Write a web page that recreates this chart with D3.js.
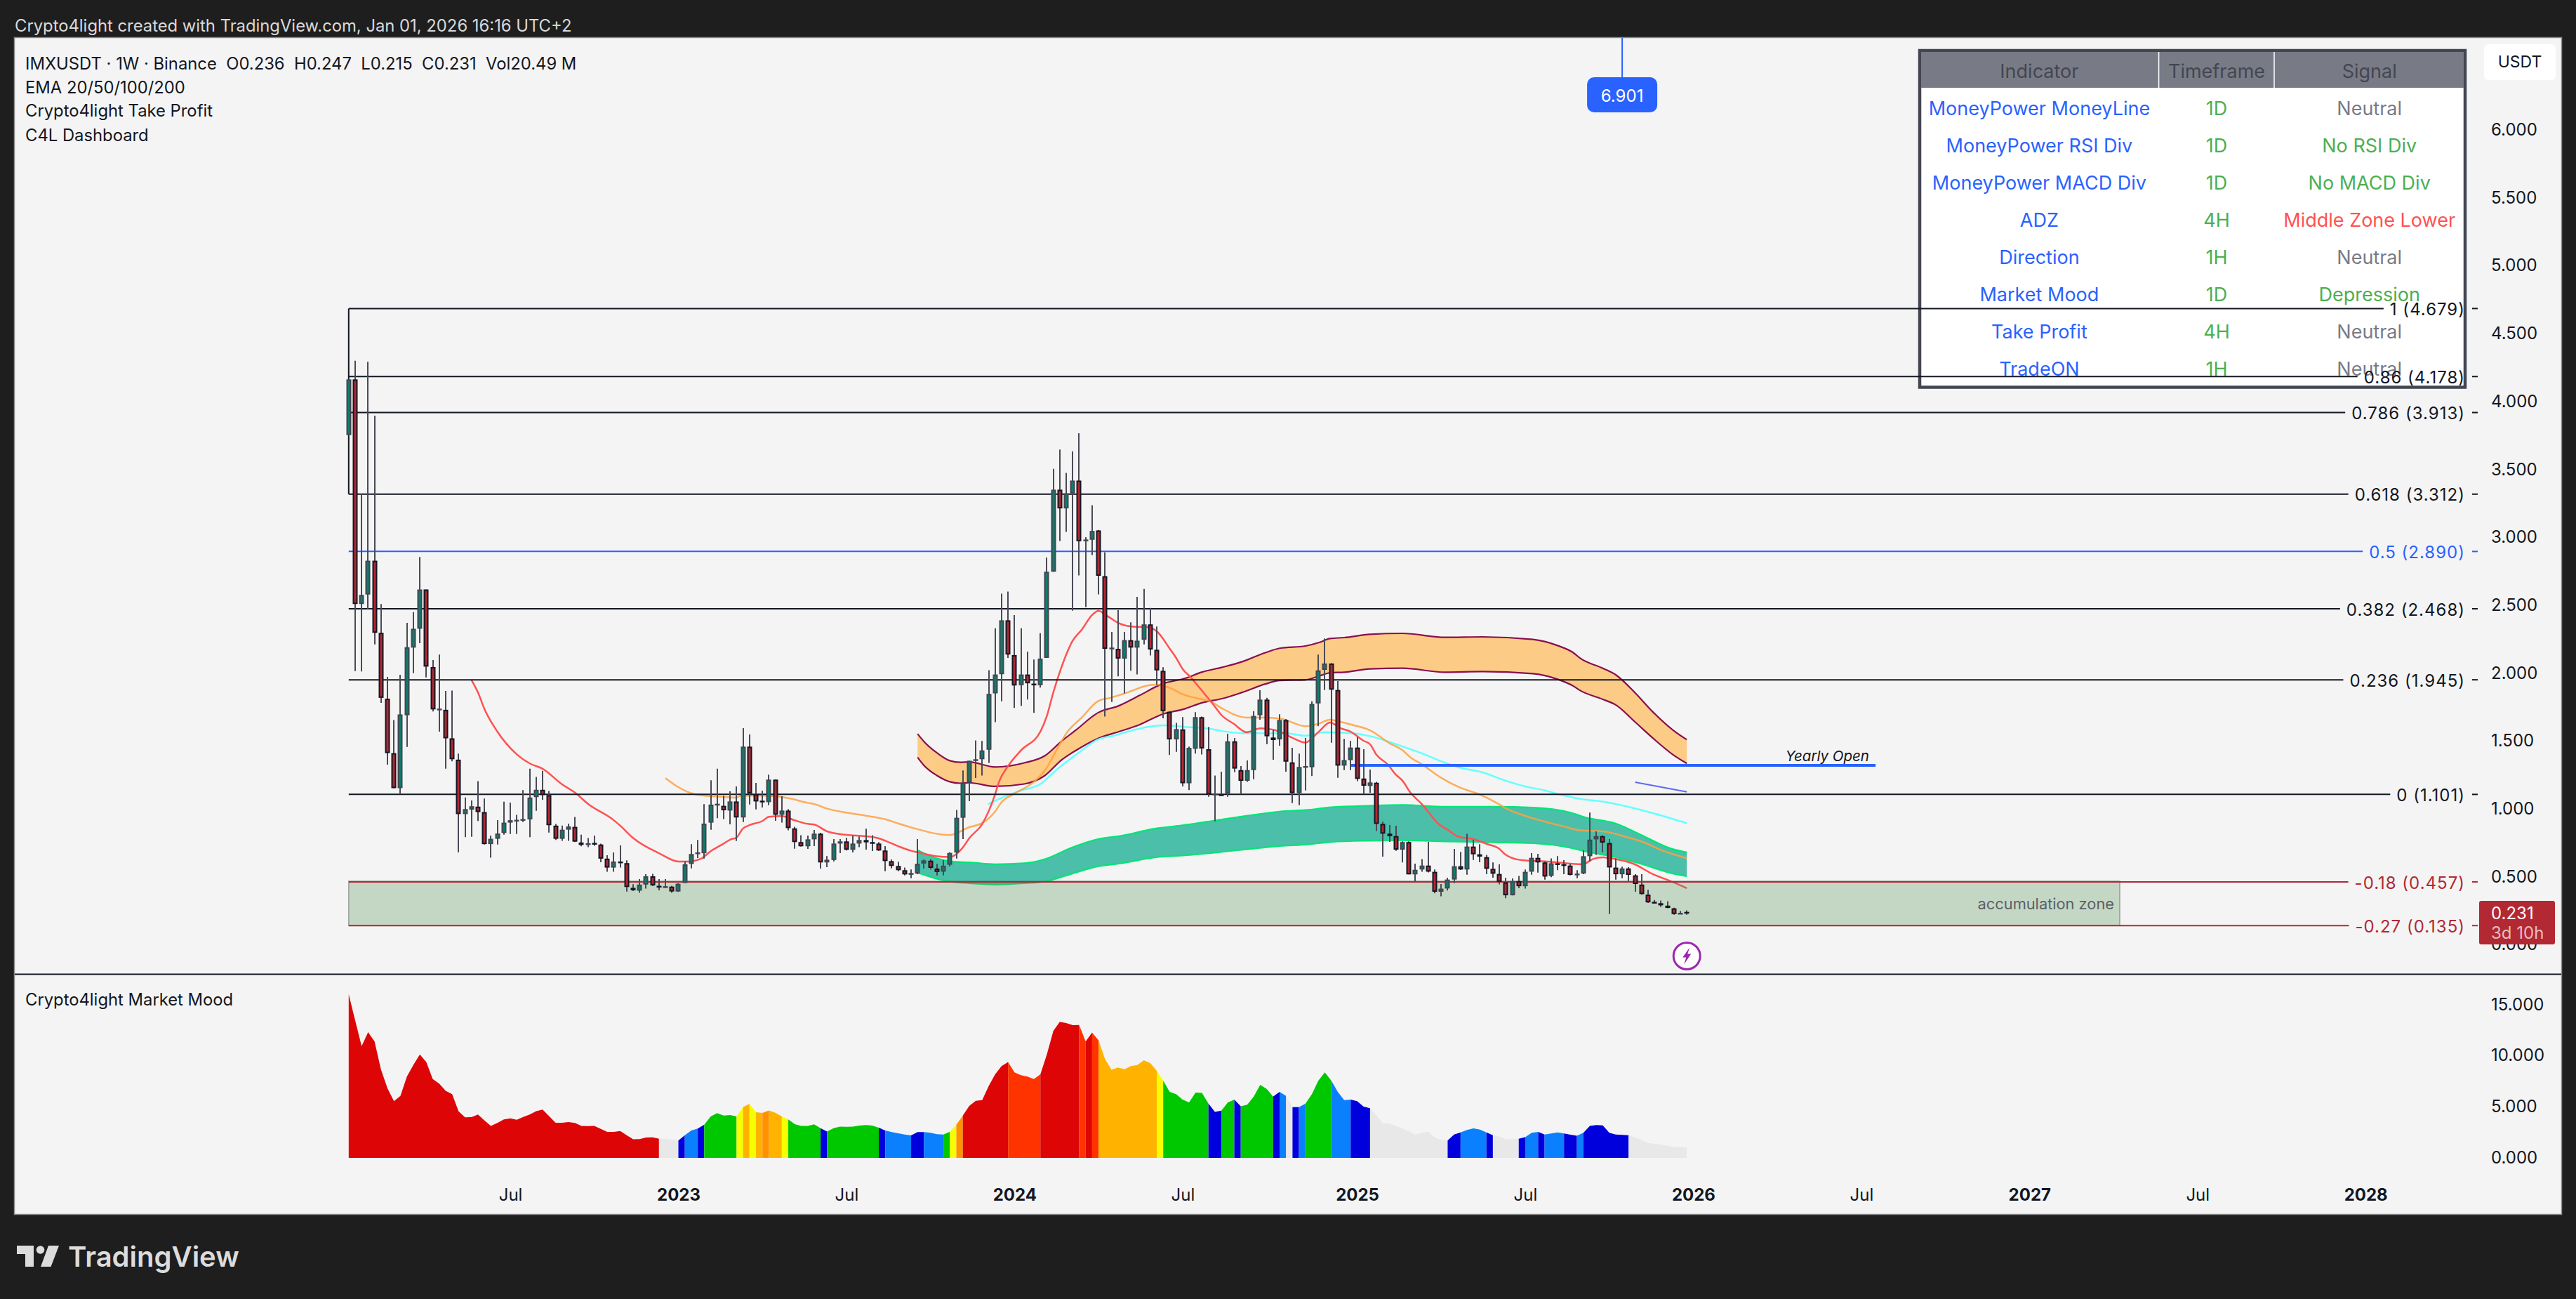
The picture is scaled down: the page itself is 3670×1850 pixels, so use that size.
<!DOCTYPE html>
<html>
<head>
<meta charset="utf-8">
<script src="https://cdn.jsdelivr.net/npm/d3@7"></script>
<style>
body { margin: 0; background: #1e1e1e; }
text { font-family: Inter, "Noto Sans", sans-serif; }
.domain { display: none; }
</style>
</head>
<body>
<div id="chart"></div>
<script>
// weekly candles, one entry per bar
var opens = [3.747,4.157,2.503,2.573,2.822,2.291,1.806,1.405,1.147,1.684,
2.182,2.321,2.61,2.039,1.727,1.724,1.514,1.357,.956,.989,
1.011,.971,.735,.774,.817,.893,.908,.911,.917,1.081,
1.135,1.096,.871,.774,.841,.862,.747,.735,.744,.732,
.628,.562,.607,.595,.413,.392,.437,.498,.428,.419,
.422,.386,.449,.589,.668,.668,.893,1.026,1.017,.982,
1.049,.931,1.453,1.103,1.055,1.044,1.21,.951,.982,.851,
.75,.719,.77,.812,.6,.618,.739,.755,.693,.739,
.765,.75,.739,.688,.61,.574,.543,.517,.518,.592,
.613,.555,.532,.583,.673,.929,1.187,1.351,1.36,1.43,
1.845,1.986,2.383,2.127,1.905,1.984,1.917,1.905,2.106,2.741,
3.345,3.207,3.318,3.412,2.971,2.976,3.045,2.708,2.177,2.173,
2.101,2.237,2.182,2.24,2.353,2.166,2.011,1.709,1.506,1.58,
1.183,1.437,1.67,1.434,1.1,1.102,1.107,1.492,1.28,1.201,
1.28,1.684,1.799,1.52,1.506,1.649,1.337,1.111,1.303,1.301,
1.771,2.018,2.065,1.87,1.313,1.354,1.446,1.218,1.163,1.187,
.884,.812,.794,.694,.75,.512,.548,.577,.531,.384,
.408,.474,.572,.548,.717,.66,.639,.553,.515,.453,
.358,.463,.425,.532,.634,.6,.501,.594,.587,.577,
.513,.518,.646,.77,.794,.743,.562,.513,.556,.505,
.437,.363,.31,.3,.282,.262,.222,.236];
var highs = [4.157,4.294,3.311,4.287,3.89,2.503,1.966,1.648,1.982,2.364,
2.443,2.849,2.61,2.091,2.13,1.863,1.866,1.402,1.078,1.056,
1.199,1.071,.798,.911,1.047,1.041,.95,1.132,1.29,1.229,
1.275,1.126,.883,.871,.886,.935,.804,.78,.798,.738,
.653,.674,.726,.616,.44,.477,.513,.516,.477,.477,
.428,.446,.607,.735,.765,1.029,1.205,1.29,1.091,1.124,
1.16,1.589,1.542,1.186,1.129,1.246,1.21,1.087,.993,.863,
.801,.798,.839,.818,.646,.772,.772,.781,.798,.791,
.848,.801,.75,.72,.622,.605,.563,.548,.772,.622,
.624,.59,.617,.675,.987,1.277,1.349,1.499,1.494,2.016,
2.325,2.579,2.595,2.422,2.325,2.152,2.094,2.288,2.845,3.498,
3.641,3.468,3.627,3.761,2.995,3.23,3.048,2.884,2.297,2.457,
2.297,2.369,2.556,2.614,2.475,2.337,2.037,1.714,1.628,1.67,
1.453,1.707,1.674,1.598,1.24,1.268,1.547,1.517,1.31,1.351,
1.714,1.868,1.813,1.575,1.691,1.656,1.444,1.402,1.517,1.787,
2.131,2.249,2.067,1.935,1.51,1.496,1.522,1.434,1.284,1.194,
.901,.875,.87,.755,.755,.591,.625,.751,.548,.441,
.487,.7,.677,.811,.767,.734,.656,.6,.586,.488,
.482,.501,.548,.668,.663,.608,.63,.646,.617,.591,
.543,.689,.967,.829,.801,.772,.63,.569,.565,.513,
.513,.398,.324,.32,.315,.267,.243,.247];
var lows = [3.747,2.009,2.006,2.467,2.206,1.775,1.32,1.147,1.102,1.451,
1.994,2.215,1.963,1.712,1.563,1.29,1.345,.674,.786,.789,
.905,.732,.635,.732,.804,.81,.81,.898,.786,.98,
1.062,.82,.765,.759,.759,.75,.719,.713,.723,.601,
.531,.531,.562,.386,.389,.377,.407,.425,.395,.413,
.377,.383,.449,.556,.632,.628,.841,.926,.919,.88,
.758,.898,1.027,.991,1.005,1.022,.906,.893,.836,.701,
.717,.7,.72,.555,.565,.608,.669,.688,.674,.712,
.694,.684,.686,.536,.556,.536,.505,.484,.513,.555,
.548,.504,.504,.571,.629,.772,1.051,1.222,1.24,1.333,
1.633,1.787,2.106,1.737,1.753,1.799,1.702,1.887,2.106,2.741,
2.967,3.034,2.454,2.713,2.48,2.863,2.574,1.674,1.781,1.97,
1.845,2.011,1.984,2.205,2.124,1.91,1.661,1.391,1.414,1.16,
1.132,1.402,1.395,1.084,.904,1.09,1.084,1.264,1.102,1.194,
1.213,1.651,1.471,1.356,1.46,1.268,1.037,1.021,1.13,1.236,
1.603,1.87,1.482,1.223,1.28,1.28,1.199,1.108,1.113,.832,
.643,.751,.686,.6,.512,.458,.531,.527,.372,.35,
.393,.448,.544,.51,.618,.601,.513,.488,.439,.336,
.357,.41,.407,.51,.525,.474,.491,.543,.513,.505,
.484,.513,.608,.655,.674,.22,.474,.484,.462,.384,
.362,.301,.301,.272,.263,.215,.22,.215];
var closes = [4.157,2.503,2.57,2.822,2.291,1.812,1.405,1.147,1.69,2.185,
2.321,2.61,2.042,1.727,1.733,1.514,1.36,.956,.993,1.014,
.971,.735,.774,.813,.893,.911,.914,.92,1.078,1.135,
1.096,.874,.774,.841,.865,.753,.729,.741,.735,.628,
.562,.607,.601,.419,.395,.437,.498,.431,.422,.425,
.386,.443,.586,.662,.674,.886,1.026,1.032,.984,1.049,
.931,1.453,1.108,1.049,1.049,1.21,.951,.982,.853,.75,
.719,.77,.812,.6,.62,.739,.755,.693,.739,.765,
.748,.739,.688,.61,.574,.543,.512,.522,.59,.615,
.56,.53,.576,.67,.929,1.187,1.349,1.36,1.425,1.841,
1.984,2.383,2.131,1.903,1.984,1.919,1.907,2.101,2.741,3.345,
3.207,3.318,3.412,2.965,2.978,3.041,2.711,2.173,2.182,2.101,
2.237,2.182,2.233,2.353,2.168,2.014,1.714,1.506,1.582,1.183,
1.444,1.67,1.439,1.102,1.107,1.093,1.492,1.291,1.201,1.28,
1.679,1.799,1.529,1.501,1.649,1.342,1.111,1.303,1.31,1.767,
2.014,2.065,1.872,1.313,1.354,1.446,1.215,1.165,1.189,.884,
.812,.794,.694,.75,.512,.546,.577,.532,.384,.407,
.474,.572,.548,.717,.66,.643,.553,.517,.457,.358,
.463,.425,.531,.634,.6,.496,.594,.584,.584,.508,
.518,.646,.768,.794,.746,.563,.513,.556,.508,.441,
.367,.306,.306,.284,.265,.22,.229,.231];

// moving averages: bar position and value of each vertex read
var ema20Bars = [19,20,21,23,26,28,30,33,35,37,41,42,44,48,51,52.5,54.5,56,58,59,60,61,62,64,65,67,69,71,72,74,77,80,82,83,85,87,88,91,93,95,96,98,100,100.6,102,104,107,108,109,110,112,113.4,115,116,117.4,119.2,121.2,123.6,125,127,128,129,130.3,132,133.8,135,136.9,138.9,141,144,146,148,150,151.8,153.5,154.9,157,158,159,160.7,162,163,164.2,166,168.8,170,171.7,174,176,177.9,178.9,181,182.6,185,189,190.9,192.5,194,196,198.7,201.8,204.5,207];
var ema20Vals = [1.942,1.851,1.73,1.563,1.396,1.329,1.29,1.175,1.114,1.032,.911,.871,.78,.668,.607,.607,.628,.683,.739,.768,.784,.85,.875,.905,.936,.941,.91,.884,.879,.829,.803,.793,.777,.76,.72,.686,.675,.645,.64,.71,.779,.883,1.102,1.194,1.31,1.425,1.564,1.679,1.852,2.002,2.233,2.314,2.422,2.452,2.413,2.36,2.337,2.332,2.302,2.175,2.106,2.025,1.961,1.864,1.76,1.686,1.621,1.559,1.587,1.564,1.517,1.483,1.56,1.63,1.587,1.565,1.496,1.47,1.392,1.323,1.246,1.203,1.117,1.03,.875,.841,.789,.772,.737,.703,.66,.62,.613,.608,.591,.587,.625,.637,.625,.591,.513,.462,.41];
var ema50Bars = [49,50.5,53.6,58,60,60.6,62,64.8,67,68.8,71,72,74,77,80,83,85,87.2,93,96,98,100,101,102.8,106.3,108,109.2,111.2,113.4,115.9,117.9,120.5,123.6,125,127.2,128.9,131.1,133.4,135,138.9,141.8,144.4,148,150,151.8,153.5,155.4,158,161,163,164.2,166,168.8,171.9,175,178,178.9,181.6,184.7,187.8,190.5,194,197.9,200.2,203.3,207];
var ema50Vals = [1.22,1.169,1.102,1.082,1.077,1.091,1.091,1.091,1.082,1.065,1.039,1.03,.996,.967,.944,.918,.887,.855,.802,.86,.89,.975,1.044,1.102,1.206,1.298,1.402,1.563,1.667,1.787,1.813,1.852,1.903,1.91,1.882,1.84,1.81,1.783,1.737,1.667,1.667,1.656,1.603,1.621,1.651,1.634,1.611,1.573,1.478,1.427,1.375,1.323,1.229,1.151,1.1,1.027,1.001,.949,.905,.867,.836,.829,.784,.75,.686,.631];
var ema100Bars = [98.9,100.6,103.7,107.2,108.5,109.9,112.1,113.4,115.9,118.3,121.4,124.5,126.3,129.4,132.9,135,138.2,141.8,144.9,148,151,155.2,158,161,163.8,166,169.2,171.9,175.4,178.9,182,184.7,187.4,190.5,194,198.7,202.5,207];
var ema100Vals = [1.028,1.067,1.125,1.183,1.24,1.298,1.379,1.425,1.506,1.533,1.575,1.605,1.61,1.598,1.587,1.568,1.552,1.552,1.552,1.533,1.559,1.551,1.53,1.487,1.441,1.404,1.341,1.298,1.263,1.203,1.16,1.134,1.1,1.068,1.048,1.001,.953,.889];
var ema200Bars = [199,207];
var ema200Vals = [1.191,1.12];

// take profit band and dashboard band
var tpBars = [88,89,91,93,94.6,96,100,104.5,107.7,110.3,112.5,115.9,119.2,122.3,125.8,129.4,132,135.1,138.2,141.8,144,148,150.2,151.8,154,158,163,169.6,175.4,183.2,187,189.4,190.5,194,196,199,201.8,204.9,207];
var tpUpper = [1.547,1.49,1.407,1.349,1.337,1.34,1.303,1.333,1.386,1.494,1.575,1.702,1.755,1.829,1.914,1.956,2.002,2.037,2.078,2.145,2.177,2.194,2.221,2.249,2.256,2.28,2.287,2.258,2.261,2.242,2.197,2.146,2.104,2.03,1.982,1.849,1.706,1.573,1.504];
var tpLower = [1.374,1.314,1.24,1.194,1.183,1.187,1.16,1.178,1.24,1.356,1.425,1.513,1.564,1.614,1.69,1.732,1.776,1.806,1.852,1.914,1.94,1.944,1.974,1.996,2.001,2.025,2.03,2.001,2.006,1.99,1.949,1.9,1.866,1.801,1.76,1.634,1.513,1.392,1.329];
var greenBars = [88,91,93.5,96,100,104.5,107.7,111.6,115.9,119.6,124.5,129.4,134.2,139.1,144,148.4,152,158,163,169.6,177.3,183.2,189,191.3,196,199.8,204.5,207];
var greenUpper = [.691,.629,.606,.601,.587,.594,.624,.705,.772,.797,.848,.876,.91,.945,.975,.987,1.007,1.018,1.023,1.011,1.011,1.004,.967,.932,.887,.806,.703,.674];
var greenLower = [.525,.479,.456,.447,.437,.447,.46,.513,.571,.594,.636,.652,.673,.698,.721,.733,.751,.76,.763,.755,.748,.741,.708,.681,.639,.591,.522,.498];

var fibRatios = ["1","0.86","0.786","0.618","0.5","0.382","0.236","0","-0.18","-0.27"];
var fibPrices = [4.679,4.178,3.913,3.312,2.89,2.468,1.945,1.101,.457,.135];

var moodValues = [15.99,13.43,10.91,12.29,11.37,8.62,6.79,5.54,6.06,7.94,
9.08,10.11,9.36,7.71,7.25,6.56,6.22,4.55,3.96,3.98,
4.23,3.66,3.13,3.41,3.75,3.86,3.73,4,4.23,4.57,
4.71,4.09,3.43,3.43,3.5,3.41,3.13,3.11,3.13,2.83,
2.54,2.54,2.63,2.22,1.81,1.83,1.99,2.01,1.87,1.83,
1.78,1.69,2.22,2.68,2.86,3.25,4.05,4.37,4.14,4.19,
4.05,4.96,5.28,4.46,4.39,4.64,4.41,4.05,3.75,3.29,
3.13,3.13,3.27,2.9,2.58,2.9,3.06,3.04,3.06,3.15,
3.2,3.15,2.95,2.68,2.52,2.4,2.29,2.19,2.52,2.52,
2.45,2.31,2.29,2.56,3.25,4.14,5.08,5.58,5.65,7.02,
8.17,8.97,9.36,8.35,8.08,7.94,7.71,8.17,10.11,12.4,
13.29,13.18,12.97,12.99,11.37,12.24,11.48,9.65,8.62,8.83,
8.67,8.97,9.08,9.54,9.26,8.51,7.55,6.45,6.22,5.69,
5.42,6.38,6.34,5.3,4.5,4.62,5.42,5.69,5.05,5.19,
5.99,7.14,6.75,5.99,6.45,6.06,4.96,4.96,5.3,6.22,
7.55,8.35,7.55,6.45,5.65,5.69,5.54,5.01,4.85,4.16,
3.36,3.36,3.13,2.86,2.61,2.26,2.45,2.56,1.99,1.76,
1.69,2.29,2.49,2.72,2.88,2.77,2.49,2.22,2.1,1.81,
1.81,1.87,2.03,2.45,2.54,2.29,2.38,2.49,2.38,2.26,
2.17,2.45,3.13,3.2,3.18,2.45,2.29,2.24,2.22,1.99,
1.76,1.46,1.37,1.3,1.19,1.07,1.07,1];
// first bar of each run of one mood colour
var moodRunStarts = [0,48,51,52,54,55,60,61,62,63,64,65,67,68,73,74,82,83,87,89,92,93,94,95,102,107,113,114,115,116,125,126,133,135,137,138,143,144,145,146,147,148,152,155,158,170,172,176,177,181,182,184,185,188,190,191,198];
var moodRunColors = ["#dd0505","#e8e8e8","#0000dd","#0a80ff","#0000dd","#00c800","#f5ff00","#ffb300","#f5ff00","#ffb300","#ff9100","#ffb300","#f5ff00","#00c800","#0000dd","#00c800","#0000dd","#0a80ff","#0000dd","#0a80ff","#00c800","#f5ff00","#ff9100","#dd0505","#ff3300","#dd0505","#ff3300","#dd0505","#ff3300","#ffb300","#f5ff00","#00c800","#0000dd","#00c800","#0000dd","#00c800","#0000dd","#0a80ff","#e8e8e8","#0000dd","#0a80ff","#00c800","#0a80ff","#0000dd","#e8e8e8","#0000dd","#0a80ff","#0000dd","#e8e8e8","#0000dd","#0a80ff","#0000dd","#0a80ff","#0000dd","#0a80ff","#0000dd","#e8e8e8"];

var priceTicks = [0,.5,1,1.5,2,2.5,3,3.5,4,4.5,5,5.5,6];
var moodTicks = [0,5,10,15];
var timeBars = [25,51,77,103,129,156,182,208,234,260,286,312];
var timeLabels = ["Jul","2023","Jul","2024","Jul","2025","Jul","2026","Jul","2027","Jul","2028"];

var headerText = "Crypto4light created with TradingView.com, Jan 01, 2026 16:16 UTC+2";
var legendLines = ["IMXUSDT · 1W · Binance  O0.236  H0.247  L0.215  C0.231  Vol20.49 M", "EMA 20/50/100/200", "Crypto4light Take Profit", "C4L Dashboard"];

var tableHead = ["Indicator","Timeframe","Signal"];
var tableNames = ["MoneyPower MoneyLine","MoneyPower RSI Div","MoneyPower MACD Div","ADZ","Direction","Market Mood","Take Profit","TradeON"];
var tableFrames = ["1D","1D","1D","4H","1H","1D","4H","1H"];
var tableSignals = ["Neutral","No RSI Div","No MACD Div","Middle Zone Lower","Neutral","Depression","Neutral","Neutral"];
var signalColors = ["#787b86","#4caf50","#4caf50","#ff5252","#787b86","#4caf50","#787b86","#787b86"];

var BLUE = "#2962ff", RED = "#b22833", DARK = "#131722";

var svg = d3.select("#chart").append("svg")
            .attr("width", 3670)
            .attr("height", 1850)
            .style("display", "block");

var x = d3.scaleLinear().domain([0, 207]).range([496.8, 2403.2]);
var y = d3.scaleLinear().domain([0, 6]).range([1344.3, 183.9]);
var yMood = d3.scaleLinear().domain([0, 15]).range([1649, 1430.4]);


function label(g, tx, ty, str, size, color, anchor)
{
    return g.append("text")
            .attr("x", tx)
            .attr("y", ty)
            .attr("dy", "0.36em")
            .attr("font-size", size)
            .attr("fill", color)
            .attr("text-anchor", anchor || "start")
            .attr("xml:space", "preserve")
            .text(str);
}


function drawLine(g, bars, vals, color, width, opacity)
{
    var line = d3.line()
                 .x(function(d) { return x(d); })
                 .y(function(d, i) { return y(vals[i]); })
                 .curve(d3.curveMonotoneX);

    g.append("path")
     .attr("d", line(bars))
     .attr("fill", "none")
     .attr("stroke", color)
     .attr("stroke-width", width)
     .attr("stroke-opacity", opacity || 1);
}


function drawBand(g, bars, upper, lower, fill, edge)
{
    var area = d3.area()
                 .x(function(d) { return x(d); })
                 .y0(function(d, i) { return y(lower[i]); })
                 .y1(function(d, i) { return y(upper[i]); })
                 .curve(d3.curveMonotoneX);

    g.append("path").attr("d", area(bars)).attr("fill", fill);
    drawLine(g, bars, upper, edge, 2.2);
    drawLine(g, bars, lower, edge, 2.2);
}


function drawFrame()
{
    svg.append("rect")
       .attr("x", 20.5).attr("y", 53.5)
       .attr("width", 3629).attr("height", 1676)
       .attr("fill", "#f4f4f4")
       .attr("stroke", "#8c8c8c")
       .attr("stroke-width", 1.5);

    svg.append("line")
       .attr("x1", 21).attr("x2", 3649)
       .attr("y1", 1387.5).attr("y2", 1387.5)
       .attr("stroke", DARK)
       .attr("stroke-width", 2);

    label(svg, 21, 36, headerText, 23.8, "#d9d9d9");
    legendLines.forEach(function(d, i) {
        label(svg, 36, [90, 124, 157, 192][i], d, 23.8, "#131722");
    });
    label(svg, 36, 1423, "Crypto4light Market Mood", 23.8, "#131722");

    // logo
    var logo = svg.append("g").attr("fill", "#dcdcdc");
    logo.append("path").attr("d", "M24 1774H48V1804H36V1786H24Z");
    logo.append("circle").attr("cx", 57.5).attr("cy", 1780).attr("r", 5.8);
    logo.append("path").attr("d", "M69 1774H84L72.5 1804H58Z");
    logo.append("text")
        .attr("x", 97).attr("y", 1804)
        .attr("font-size", 40)
        .attr("font-weight", 600)
        .attr("fill", "#dcdcdc")
        .text("TradingView");
}


function drawIndicators()
{
    var g = svg.append("g");
    drawBand(g, tpBars, tpUpper, tpLower, "#fccb85", "#880e4f");
    drawBand(g, greenBars, greenUpper, greenLower, "#4bbfa9", "#00e676");
    drawLine(g, ema100Bars, ema100Vals, "#66ffff", 2.5);
    drawLine(g, ema50Bars, ema50Vals, "#ffa040", 2.5, 0.85);
    drawLine(g, ema20Bars, ema20Vals, "#ff5252", 2.5);
    drawLine(g, ema200Bars, ema200Vals, "#5c6bf0", 2);

    // accumulation zone
    g.append("rect")
     .attr("x", x(0))
     .attr("y", y(fibPrices[8]) - 1)
     .attr("width", 3020 - x(0))
     .attr("height", y(fibPrices[9]) - y(fibPrices[8]) + 1)
     .attr("fill", "rgba(87,150,90,0.3)")
     .attr("stroke", "rgba(110,110,110,0.6)")
     .attr("stroke-width", 1.5);
    label(g, 3012, 1287, "accumulation zone", 21.8, "#5d6066", "end");
}


function drawTable()
{
    var g = svg.append("g");
    var cols = [2905.4, 3158, 3375.7];

    g.append("rect")
     .attr("x", 2735).attr("y", 72)
     .attr("width", 777).attr("height", 479.5)
     .attr("fill", "#fff")
     .attr("stroke", "#434651")
     .attr("stroke-width", 4.5);
    g.append("rect")
     .attr("x", 2737).attr("y", 74)
     .attr("width", 773).attr("height", 51)
     .attr("fill", "#787b86");
    [3075.6, 3240].forEach(function(d) {
        g.append("line")
         .attr("x1", d).attr("x2", d)
         .attr("y1", 74).attr("y2", 125)
         .attr("stroke", "#fff")
         .attr("stroke-width", 1.5);
    });

    tableHead.forEach(function(d, i) {
        label(g, cols[i], 101.5, d, 27, "#434651", "middle");
    });
    var rowY = d3.scaleLinear().domain([0, 7]).range([154, 525]);
    tableNames.forEach(function(d, i) {
        label(g, cols[0], rowY(i), d, 27, BLUE, "middle");
        label(g, cols[1], rowY(i), tableFrames[i], 27, "#4caf50", "middle");
        label(g, cols[2], rowY(i), tableSignals[i], 27, signalColors[i], "middle");
    });
}


function drawFib()
{
    var g = svg.append("g");

    g.append("line")
     .attr("x1", x(0)).attr("x2", x(0))
     .attr("y1", y(fibPrices[0])).attr("y2", y(fibPrices[3]))
     .attr("stroke", DARK)
     .attr("stroke-width", 2);

    fibPrices.forEach(function(p, i) {
        var color = p < 1 ? RED : (fibRatios[i] == "0.5" ? BLUE : DARK);
        var py = y(p);
        var t = label(g, 3512, py + 1, fibRatios[i] + " (" + d3.format(".3f")(p) + ")", 24, color, "end")
                  .attr("letter-spacing", 1);
        var start = 3512 - t.node().getComputedTextLength();

        g.append("line")
         .attr("x1", x(0)).attr("x2", start - 9)
         .attr("y1", py).attr("y2", py)
         .attr("stroke", color)
         .attr("stroke-width", 2);
        g.append("line")
         .attr("x1", 3522).attr("x2", 3530)
         .attr("y1", py).attr("y2", py)
         .attr("stroke", color)
         .attr("stroke-width", 2);
    });

    // yearly open
    g.append("line")
     .attr("x1", x(155)).attr("x2", x(236.2))
     .attr("y1", y(1.315)).attr("y2", y(1.315))
     .attr("stroke", BLUE)
     .attr("stroke-width", 4);
    label(g, 2663, 1077, "Yearly Open", 20.5, DARK, "end").attr("font-style", "italic");
}


function drawCandles()
{
    var bars = d3.range(opens.length);
    var g = svg.append("g").attr("class", "candles");

    g.selectAll(".wick")
     .data(bars)
     .enter().append("line")
     .attr("class", "wick")
     .attr("x1", function(d) { return Math.round(x(d)); })
     .attr("x2", function(d) { return Math.round(x(d)); })
     .attr("y1", function(d) { return y(highs[d]); })
     .attr("y2", function(d) { return y(lows[d]); })
     .attr("stroke", "#4a4b57")
     .attr("stroke-width", 2);

    g.selectAll(".body")
     .data(bars)
     .enter().append("rect")
     .attr("class", "body")
     .attr("x", function(d) { return Math.round(x(d)) - 2.5; })
     .attr("y", function(d) { return y(Math.max(opens[d], closes[d])) + 1; })
     .attr("width", 5)
     .attr("height", function(d) { return Math.max(Math.abs(y(opens[d]) - y(closes[d])) - 2, 0.5); })
     .attr("fill", function(d) { return closes[d] >= opens[d] ? "#0d7d6c" : RED; })
     .attr("stroke", function(d) { return closes[d] >= opens[d] ? "#434651" : DARK; })
     .attr("stroke-width", 2);
}


function drawMood()
{
    var g = svg.append("g");
    var area = d3.area()
                 .x(function(d) { return x(d); })
                 .y0(yMood(0))
                 .y1(function(d) { return yMood(moodValues[d]); });

    moodRunStarts.forEach(function(start, i) {
        var end = i + 1 < moodRunStarts.length ? moodRunStarts[i + 1] : moodValues.length - 1;
        var bars = d3.range(start, end + 1);
        g.append("path")
         .attr("d", area(bars))
         .attr("fill", moodRunColors[i]);
    });
}


function drawAxes()
{
    var fmt = d3.format(".3f");

    var priceAxis = d3.axisRight(y).tickValues(priceTicks).tickFormat(fmt).tickSize(0).tickPadding(0);
    svg.append("g")
       .attr("transform", "translate(3549,1)")
       .call(priceAxis)
       .selectAll("text")
       .style("font-family", "Inter")
       .attr("font-size", 24)
       .attr("fill", "#131722");

    var moodAxis = d3.axisRight(yMood).tickValues(moodTicks).tickFormat(fmt).tickSize(0).tickPadding(0);
    svg.append("g")
       .attr("transform", "translate(3549,0)")
       .call(moodAxis)
       .selectAll("text")
       .style("font-family", "Inter")
       .attr("font-size", 24)
       .attr("fill", "#131722");

    var timeAxis = d3.axisBottom(x)
                     .tickValues(timeBars)
                     .tickFormat(function(d, i) { return timeLabels[i]; })
                     .tickSize(0)
                     .tickPadding(0);
    svg.append("g")
       .attr("transform", "translate(0,1693)")
       .call(timeAxis)
       .selectAll("text")
       .style("font-family", "Inter")
       .attr("font-size", 24)
       .attr("font-weight", function(d, i) { return timeLabels[i] == "Jul" ? 400 : 700; })
       .attr("fill", "#131722");
}


function drawTags()
{
    // currency box
    svg.append("rect")
       .attr("x", 3539).attr("y", 63)
       .attr("width", 102).attr("height", 51)
       .attr("rx", 6)
       .attr("fill", "#fff");
    label(svg, 3590, 88, "USDT", 23, "#131722", "middle");

    // off chart high
    svg.append("line")
       .attr("x1", x(197)).attr("x2", x(197))
       .attr("y1", 54).attr("y2", 110)
       .attr("stroke", BLUE)
       .attr("stroke-width", 2);
    svg.append("rect")
       .attr("x", x(197) - 50).attr("y", 110)
       .attr("width", 100).attr("height", 50)
       .attr("rx", 10)
       .attr("fill", BLUE);
    label(svg, x(197), 136, "6.901", 24, "#fff", "middle");

    // last price
    svg.append("rect")
       .attr("x", 3532).attr("y", 1283)
       .attr("width", 108).attr("height", 62)
       .attr("rx", 3)
       .attr("fill", RED);
    label(svg, 3549, 1300.5, "0.231", 24, "#fff");
    label(svg, 3549, 1328.5, "3d 10h", 24, "rgba(255,255,255,0.7)");

    // lightning badge
    var bolt = svg.append("g").attr("transform", "translate(" + x(207) + ",1361.5)");
    bolt.append("circle").attr("r", 19)
        .attr("fill", "#fff")
        .attr("stroke", "#9c27b0")
        .attr("stroke-width", 3);
    bolt.append("path")
        .attr("d", "M4 -12 L-6 2 L-1 2 L-4 12 L6 -3 L1 -3 Z")
        .attr("fill", "#9c27b0");
}


drawFrame();
drawIndicators();
drawTable();
drawFib();
drawCandles();
drawMood();
drawAxes();
drawTags();
</script>
</body>
</html>
